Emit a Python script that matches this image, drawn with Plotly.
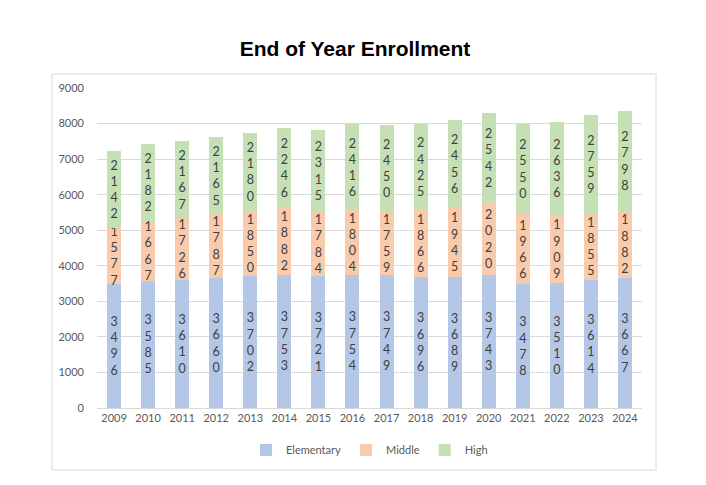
import plotly.graph_objects as go

years = ["2009", "2010", "2011", "2012", "2013", "2014", "2015", "2016",
         "2017", "2018", "2019", "2020", "2021", "2022", "2023", "2024"]
elementary = [3496, 3585, 3610, 3660, 3702, 3753, 3721, 3754, 3749, 3696, 3689, 3743, 3478, 3510, 3614, 3667]
middle = [1577, 1667, 1726, 1787, 1850, 1882, 1784, 1804, 1759, 1866, 1945, 2020, 1966, 1909, 1855, 1882]
high = [2142, 2182, 2167, 2165, 2180, 2246, 2315, 2416, 2450, 2425, 2456, 2542, 2550, 2636, 2759, 2798]
y_ticks = [0, 1000, 2000, 3000, 4000, 5000, 6000, 7000, 8000, 9000]

series = [("Elementary", elementary, "#B4C7E7"),
          ("Middle", middle, "#F8CBAD"),
          ("High", high, "#C5E0B4")]

def vertical_digits(vals):
    return ["<br>".join(str(v)) for v in vals]

fig = go.Figure()
for name, vals, color in series:
    fig.add_trace(go.Bar(
        x=years, y=vals, name=name,
        marker=dict(color=color, line=dict(width=0)),
        text=vertical_digits(vals),
        textposition="inside",
        insidetextanchor="middle",
        textangle=0,
        constraintext="none",
        textfont=dict(family="Lato", size=12.5, color="#404040"),
        hoverinfo="skip",
    ))

fig.update_layout(
    barmode="stack",
    bargap=0.59,
    width=706, height=485,
    margin=dict(l=89, r=72, t=80, b=85),
    paper_bgcolor="white",
    plot_bgcolor="white",
    title=dict(text="<b>End of Year Enrollment</b>", x=0.4915, xanchor="center",
               y=1 - 41 / 485, yref="container", yanchor="middle",
               font=dict(family="Liberation Sans", size=21, color="#000000")),
    xaxis=dict(showline=True, linecolor="#D9D9D9", linewidth=1, ticks="",
               tickfont=dict(family="Lato", size=11, color="#595959")),
    yaxis=dict(range=[0, 9000], tickvals=y_ticks, showgrid=True, gridcolor="#D9D9D9",
               gridwidth=1, zeroline=False, tickformat="d", ticks="",
               tickfont=dict(family="Lato", size=11, color="#595959"), ticklabelstandoff=12),
    legend=dict(orientation="h", x=0.5, xanchor="center", y=-0.131, yanchor="middle",
                font=dict(family="Lato", size=11, color="#595959"), traceorder="normal",
                itemwidth=30),
    showlegend=True,
    shapes=[dict(type="rect", xref="paper", yref="paper",
                 x0=-0.0826, x1=1.0257, y0=-0.19375, y1=1.04375,
                 line=dict(color="#D9D9D9", width=1), fillcolor="rgba(0,0,0,0)", layer="below")],
)

fig.write_html("out.html")
